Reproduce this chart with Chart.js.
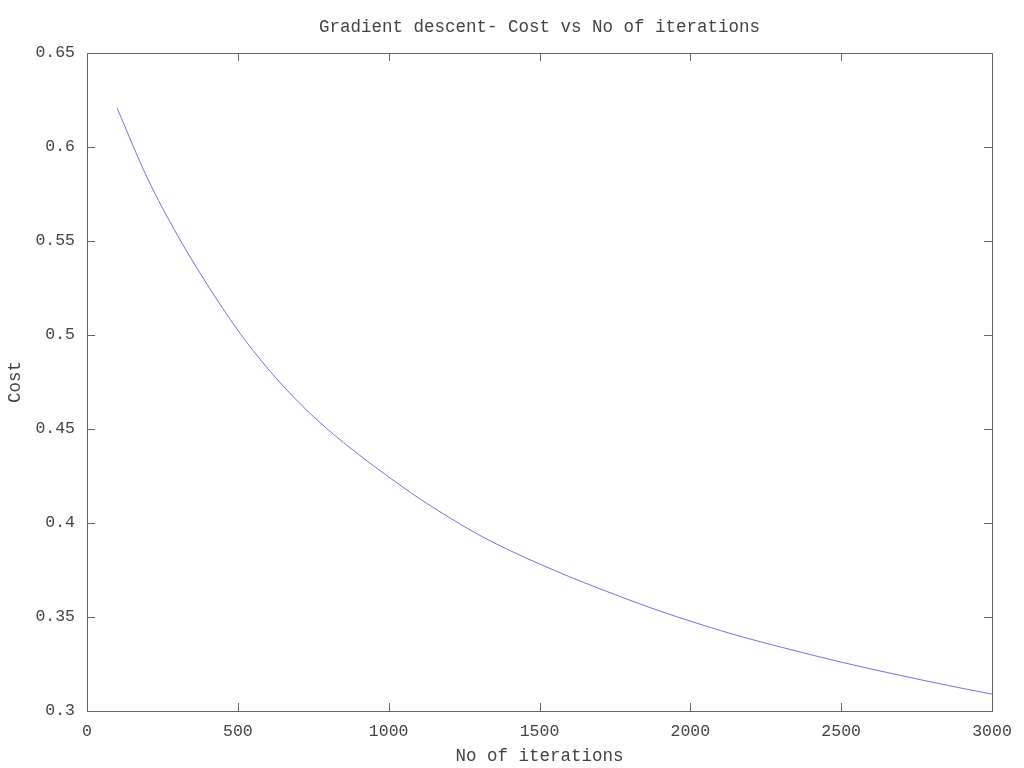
<!DOCTYPE html>
<html>
<head>
<meta charset="utf-8">
<script src="https://cdn.jsdelivr.net/npm/chart.js@4/dist/chart.umd.min.js"></script>
<style>
  html, body { margin: 0; padding: 0; background: #fff; }
  #wrap { width: 1024px; height: 768px; }
</style>
</head>
<body>
<div id="wrap"><canvas id="cost"></canvas></div>
<script>
// iterations and cost
const iterations = [100, 200, 300, 400, 500, 600, 700, 800, 900, 1000,
      1100, 1200, 1300, 1400, 1500, 1600, 1700, 1800, 1900, 2000,
      2100, 2200, 2300, 2400, 2500, 2600, 2700, 2800, 2900, 3000];
const cost = [0.6206, 0.5835, 0.553, 0.5265, 0.5025, 0.482, 0.4645, 0.4495, 0.4365, 0.4245,
      0.4132, 0.403, 0.3936, 0.3855, 0.3782, 0.3714, 0.365, 0.3589, 0.3531, 0.3478,
      0.3428, 0.3382, 0.334, 0.3299, 0.326, 0.3223, 0.3188, 0.3154, 0.3121, 0.309];
const xTicks = [0, 500, 1000, 1500, 2000, 2500, 3000];
const yTicks = [0.3, 0.35, 0.4, 0.45, 0.5, 0.55, 0.6, 0.65];

const textColor = '#444';
const mono = 'Liberation Mono, Courier New, monospace';

// box round the plot + tick marks pointing inwards, octave style
const innerTicks = {
      id: 'innerTicks',
      afterDatasetsDraw(chart) {
            const ctx = chart.ctx;
            const a = chart.chartArea;
            const x = chart.scales.x, y = chart.scales.y;
            ctx.save();
            ctx.strokeStyle = '#666';
            ctx.lineWidth = 1;
            ctx.strokeRect(a.left + 0.5, a.top + 0.5, a.right - a.left, a.bottom - a.top);
            ctx.beginPath();
            x.ticks.forEach(t => {
                  const px = Math.round(x.getPixelForValue(t.value)) + 0.5;
                  ctx.moveTo(px, a.bottom); ctx.lineTo(px, a.bottom - 8);
                  ctx.moveTo(px, a.top); ctx.lineTo(px, a.top + 8);
            });
            y.ticks.forEach(t => {
                  const py = Math.round(y.getPixelForValue(t.value)) + 0.5;
                  ctx.moveTo(a.left, py); ctx.lineTo(a.left + 8, py);
                  ctx.moveTo(a.right, py); ctx.lineTo(a.right - 8, py);
            });
            ctx.stroke();
            ctx.restore();
      }
};

new Chart(document.getElementById('cost'), {
      type: 'line',
      data: {
            datasets: [{
                  data: iterations.map((it, i) => ({x: it, y: cost[i]})),
                  borderColor: '#7373dc',
                  borderWidth: 1,
                  pointRadius: 0,
                  cubicInterpolationMode: 'monotone',
                  fill: false
            }]
      },
      options: {
            responsive: true,
            maintainAspectRatio: false,
            animation: false,
            layout: { padding: { left: 0, right: 32, top: 0, bottom: 0 } },
            plugins: {
                  legend: { display: false },
                  tooltip: { enabled: false },
                  title: {
                        display: true,
                        fullSize: false,
                        text: 'Gradient descent- Cost vs No of iterations',
                        color: textColor,
                        font: { family: mono, size: 17.5, weight: 'normal' },
                        padding: { top: 17, bottom: 15 }
                  }
            },
            scales: {
                  x: {
                        type: 'linear',
                        min: 0,
                        max: 3000,
                        afterBuildTicks: s => { s.ticks = xTicks.map(v => ({value: v})); },
                        afterFit: s => { s.height = 57; },
                        grid: { display: false, drawTicks: false },
                        border: { display: false },
                        ticks: {
                              color: textColor,
                              padding: 11,
                              maxRotation: 0,
                              callback: v => String(v),
                              font: { family: mono, size: 16.5 }
                        },
                        title: {
                              display: true,
                              text: 'No of iterations',
                              color: textColor,
                              font: { family: mono, size: 17.5 },
                              padding: { top: 0, bottom: 1 }
                        }
                  },
                  y: {
                        type: 'linear',
                        min: 0.3,
                        max: 0.65,
                        afterBuildTicks: s => { s.ticks = yTicks.map(v => ({value: v})); },
                        afterFit: s => { s.width = 87; },
                        grid: { display: false, drawTicks: false },
                        border: { display: false },
                        ticks: {
                              color: textColor,
                              padding: 12,
                              callback: v => String(+v.toFixed(2)),
                              font: { family: mono, size: 16.5 }
                        },
                        title: {
                              display: true,
                              text: 'Cost',
                              color: textColor,
                              font: { family: mono, size: 17.5 },
                              padding: { top: 5, bottom: 0 }
                        }
                  }
            }
      },
      plugins: [innerTicks]
});
</script>
</body>
</html>
